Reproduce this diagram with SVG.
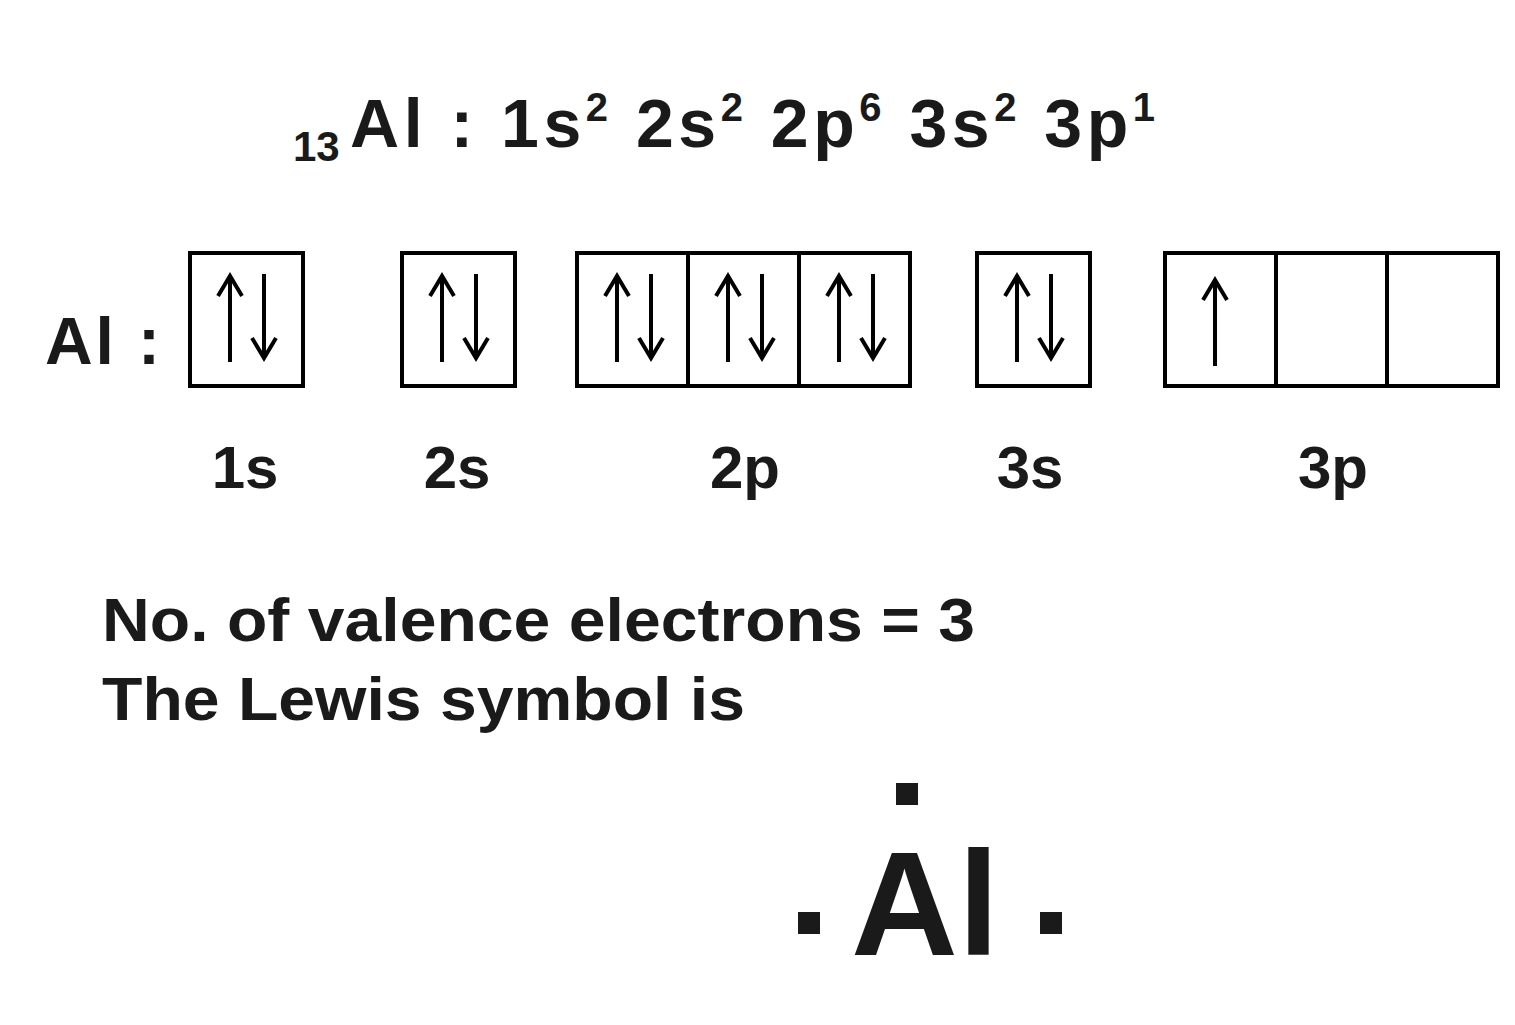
<svg xmlns="http://www.w3.org/2000/svg" width="1515" height="1025" viewBox="0 0 1515 1025">
<defs>
<style>
text{font-family:"Liberation Sans",Arial,sans-serif;font-weight:bold;fill:#1a1a1a}
.box{fill:none;stroke:#000;stroke-width:4}
.arr{stroke:#000;stroke-width:4;fill:none}
.lab{font-size:60px;text-anchor:middle}
</style>
<g id="up"><path class="arr" d="M0 362V276M-12 296L0 276L12 296"/></g>
<g id="dn"><path class="arr" d="M0 274V358M-12 338L0 358L12 338"/></g>
</defs>
<rect width="1515" height="1025" fill="#fff"/>
<g id="config"><text x="293" y="161" font-size="42">13</text><text x="350" y="147" font-size="68" textLength="805" lengthAdjust="spacing">Al :  1s<tspan font-size="40" dy="-26">2</tspan><tspan dy="26"> 2s</tspan><tspan font-size="40" dy="-26">2</tspan><tspan dy="26"> 2p</tspan><tspan font-size="40" dy="-26">6</tspan><tspan dy="26"> 3s</tspan><tspan font-size="40" dy="-26">2</tspan><tspan dy="26"> 3p</tspan><tspan font-size="40" dy="-26">1</tspan></text></g>
<text x="45" y="364" font-size="66" textLength="115" lengthAdjust="spacing">Al :</text>
<g id="s1"><rect class="box" x="190" y="253" width="113" height="133"/><use href="#up" x="230"/><use href="#dn" x="264"/><text class="lab" x="245" y="488">1s</text></g>
<g id="s2"><rect class="box" x="402" y="253" width="113" height="133"/><use href="#up" x="442"/><use href="#dn" x="476"/><text class="lab" x="457" y="488">2s</text></g>
<g id="p2"><rect class="box" x="577" y="253" width="333" height="133"/><path class="box" d="M688 253V386M799 253V386"/><use href="#up" x="617"/><use href="#dn" x="651"/><use href="#up" x="728"/><use href="#dn" x="762"/><use href="#up" x="839"/><use href="#dn" x="873"/><text class="lab" x="745" y="488">2p</text></g>
<g id="s3"><rect class="box" x="977" y="253" width="113" height="133"/><use href="#up" x="1017"/><use href="#dn" x="1051"/><text class="lab" x="1030" y="488">3s</text></g>
<g id="p3"><rect class="box" x="1165" y="253" width="333" height="133"/><path class="box" d="M1276 253V386M1387 253V386"/><use href="#up" x="1215" y="4"/><text class="lab" x="1333" y="488">3p</text></g>
<text x="102" y="641" font-size="62" textLength="873" lengthAdjust="spacingAndGlyphs">No. of valence electrons = 3</text>
<text x="102" y="720" font-size="62" textLength="643" lengthAdjust="spacingAndGlyphs">The Lewis symbol is</text>
<g id="lewis"><text x="925" y="955" font-size="148" text-anchor="middle">Al</text><rect x="896" y="783" width="22" height="22" fill="#1a1a1a"/><rect x="798" y="912" width="22" height="22" fill="#1a1a1a"/><rect x="1040" y="912" width="22" height="22" fill="#1a1a1a"/></g>
</svg>
